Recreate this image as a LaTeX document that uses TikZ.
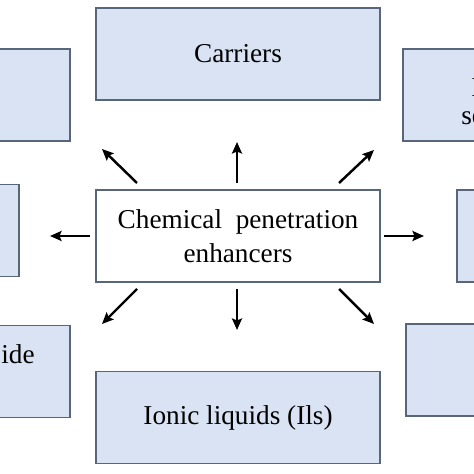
\documentclass[tikz,border=0pt]{standalone}
\usepackage{fontspec}
\setmainfont{Liberation Serif}
\usetikzlibrary{arrows.meta}

\definecolor{boxfill}{RGB}{217,227,243}
\definecolor{boxline}{RGB}{88,102,122}
\tikzset{
	box/.style={draw=boxline, fill=boxfill, line width=0.6pt, minimum width=5.68cm, minimum height=1.84cm, inner sep=0pt, align=center, font=\fontsize{15.5}{19.4}\selectfont},
	label/.style={inner sep=0pt, font=\fontsize{15.5}{19.4}\selectfont},
	arr/.style={-{Stealth[length=2.3mm, width=2mm, inset=0.4mm]}, line width=1.4pt}
}

\begin{document}
\begin{tikzpicture}
		\useasboundingbox (0,0) rectangle (9.48,9.48);
		
		%center
		\node[box, fill=white] (cpe) at (4.76,4.76) {Chemical\hspace{0.5em}penetration\\enhancers};
		
		%outer boxes
		\node[box] (car) at (4.76,8.40) {Carriers};
		\node[box] (ils) at (4.76,1.13) {Ionic liquids (Ils)};
		\node[box] (tl) at (-1.44,7.58) {};
		\node[box] (tr) at (10.90,7.58) {};
		\node[box] (ml) at (-2.46,4.87) {};
		\node[box] (mr) at (11.98,4.76) {};
		\node[box] (bl) at (-1.44,2.05) {};
		\node[box] (br) at (10.96,2.08) {};
		
		%cut texts
		\node[label, anchor=base west] (trtop) at (9.42,7.54) {I};
		\node[label, anchor=base west] (trbot) at (9.22,6.98) {se};
		\node[label, anchor=base east] (bltop) at (0.70,2.20) {ide};
		
		%arrow ends
		\coordinate (tup) at (4.74,5.82);   \coordinate (hup) at (4.74,6.64);
		\coordinate (tul) at (2.74,5.82);   \coordinate (hul) at (2.04,6.50);
		\coordinate (tur) at (6.78,5.82);   \coordinate (hur) at (7.48,6.48);
		\coordinate (tl2) at (1.80,4.76);   \coordinate (hl2) at (1.00,4.76);
		\coordinate (tr2) at (7.68,4.76);   \coordinate (hr2) at (8.48,4.76);
		\coordinate (tdl) at (2.74,3.70);   \coordinate (hdl) at (2.04,3.00);
		\coordinate (tdn) at (4.74,3.70);   \coordinate (hdn) at (4.74,2.88);
		\coordinate (tdr) at (6.78,3.70);   \coordinate (hdr) at (7.48,3.00);
		
		%arrows
		\draw[arr] (tup) -- (hup);
		\draw[arr] (tul) -- (hul);
		\draw[arr] (tur) -- (hur);
		\draw[arr] (tl2) -- (hl2);
		\draw[arr] (tr2) -- (hr2);
		\draw[arr] (tdl) -- (hdl);
		\draw[arr] (tdn) -- (hdn);
		\draw[arr] (tdr) -- (hdr);
\end{tikzpicture}
\end{document}
